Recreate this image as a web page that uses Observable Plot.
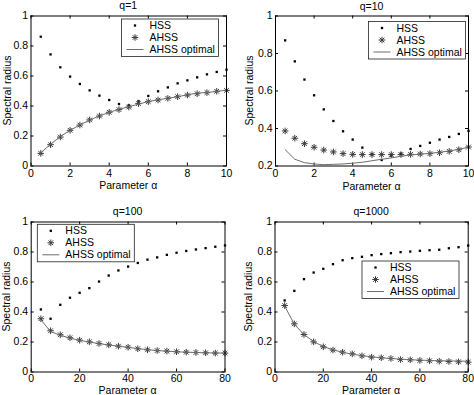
<!DOCTYPE html>
<html><head><meta charset="utf-8">
<script src="https://cdn.jsdelivr.net/npm/d3@7"></script>
<script src="https://cdn.jsdelivr.net/npm/@observablehq/plot@0.6"></script>
<style>
html,body{margin:0;padding:0;background:#fff;}
#fig{position:relative;width:474px;height:395px;overflow:hidden;background:#fff;}
</style></head><body><div id="fig"></div>
<script>
// ---- data ----
const alphaSmall = [0.5,1,1.5,2,2.5,3,3.5,4,4.5,5,5.5,6,6.5,7,7.5,8,8.5,9,9.5,10];
const alphaLarge = [4,8,12,16,20,24,28,32,36,40,44,48,52,56,60,64,68,72,76,80];

const hss_q1  = [0.862,0.744,0.658,0.596,0.547,0.504,0.469,0.440,0.413,0.405,0.433,0.467,0.498,0.524,0.551,0.571,0.591,0.611,0.627,0.642];
const ahss_q1 = [0.084,0.142,0.193,0.238,0.273,0.307,0.333,0.358,0.376,0.393,0.416,0.429,0.440,0.451,0.462,0.473,0.482,0.489,0.498,0.504];
const opt_q1  = [0.088,0.145,0.197,0.237,0.275,0.305,0.335,0.357,0.378,0.395,0.412,0.430,0.441,0.452,0.462,0.475,0.486,0.490,0.497,0.506];

const hss_q10  = [0.870,0.758,0.661,0.577,0.502,0.440,0.385,0.341,0.298,0.262,0.232,0.255,0.266,0.291,0.307,0.324,0.341,0.355,0.371,0.387];
const ahss_q10 = [0.387,0.348,0.319,0.300,0.285,0.275,0.266,0.262,0.261,0.261,0.261,0.261,0.261,0.262,0.264,0.266,0.271,0.278,0.287,0.301];
const opt_q10  = [0.287,0.236,0.218,0.211,0.207,0.209,0.211,0.215,0.220,0.228,0.236,0.243,0.252,0.259,0.263,0.268,0.273,0.280,0.289,0.300];

const hss_q100  = [0.417,0.355,0.448,0.495,0.528,0.559,0.603,0.643,0.677,0.703,0.727,0.749,0.764,0.781,0.795,0.807,0.817,0.826,0.835,0.844];
const ahss_q100 = [0.355,0.275,0.248,0.228,0.212,0.201,0.190,0.181,0.172,0.165,0.155,0.148,0.143,0.139,0.135,0.132,0.130,0.128,0.126,0.126];
const opt_q100  = [0.348,0.270,0.245,0.226,0.211,0.200,0.189,0.180,0.172,0.164,0.156,0.149,0.143,0.139,0.135,0.132,0.130,0.128,0.127,0.126];

const hss_q1000  = [0.477,0.541,0.619,0.663,0.688,0.719,0.745,0.759,0.768,0.779,0.786,0.792,0.799,0.803,0.808,0.812,0.815,0.825,0.832,0.843];
const ahss_q1000 = [0.443,0.321,0.250,0.201,0.168,0.146,0.132,0.121,0.108,0.099,0.095,0.090,0.083,0.081,0.077,0.075,0.072,0.070,0.068,0.066];
const opt_q1000  = [0.440,0.318,0.250,0.202,0.170,0.148,0.131,0.119,0.109,0.101,0.095,0.090,0.086,0.082,0.079,0.077,0.075,0.074,0.073,0.072];

const xTicksSmall = [0,2,4,6,8,10];
const xTicksLarge = [0,20,40,60,80];
const yTicksFull = [0,0.2,0.4,0.6,0.8,1];
const yTicksQ10 = [0.2,0.4,0.6,0.8,1];
const titles = ["q=1","q=10","q=100","q=1000"];
const seriesNames = ["HSS","AHSS","AHSS optimal"];
const xLabel = "Parameter α";
const yLabel = "Spectral radius";

// ---- rendering ----
const FONT = '"Liberation Sans", Arial, Helvetica, sans-serif';
const FS = 10.5;
const asterisk = {draw(ctx, size){
  const r = Math.sqrt(size/Math.PI), d = r*Math.SQRT1_2;
  ctx.moveTo(-r,0); ctx.lineTo(r,0); ctx.moveTo(0,-r); ctx.lineTo(0,r);
  ctx.moveTo(-d,-d); ctx.lineTo(d,d); ctx.moveTo(-d,d); ctx.lineTo(d,-d);
}};
const AST_R = 3.3, AST_COLOR = "#3a3a3a", LINE_COLOR = "#6e6e6e";

const panels = [
  {title:titles[0], xs:alphaSmall, hss:hss_q1, ahss:ahss_q1, opt:opt_q1, left:0, top:0, w:237, h:197,
   m:{l:30.5,r:11,t:15.5,b:31.5}, xDomain:[0,10], yDomain:[0,1], xTicks:xTicksSmall, yTicks:yTicksFull,
   legend:[121.5,19], titleY:5.5, xlabY:185, ylabX:7.5, xPad:4},
  {title:titles[1], xs:alphaSmall, hss:hss_q10, ahss:ahss_q10, opt:opt_q10, left:237, top:0, w:237, h:197,
   m:{l:38,r:6,t:15.5,b:31.5}, xDomain:[0,10], yDomain:[0.2,1], xTicks:xTicksSmall, yTicks:yTicksQ10,
   legend:[131.5,21.5], titleY:6, xlabY:186, ylabX:12, xPad:4},
  {title:titles[2], xs:alphaLarge, hss:hss_q100, ahss:ahss_q100, opt:opt_q100, left:0, top:197, w:237, h:198,
   m:{l:30.7,r:12.5,t:24.5,b:23.5}, xDomain:[0,80], yDomain:[0,1], xTicks:xTicksLarge, yTicks:yTicksFull,
   legend:[37.3,27.3], titleY:14, xlabY:193, ylabX:6.5, xPad:2.5},
  {title:titles[3], xs:alphaLarge, hss:hss_q1000, ahss:ahss_q1000, opt:opt_q1000, left:237, top:197, w:237, h:198,
   m:{l:37.5,r:6.3,t:24.5,b:23.5}, xDomain:[0,80], yDomain:[0,1], xTicks:xTicksLarge, yTicks:yTicksFull,
   legend:[125,64], titleY:14, xlabY:193, ylabX:11, xPad:2.5}
];

const fig = document.getElementById("fig");
for (const p of panels) {
  const fw = p.w - p.m.l - p.m.r, fh = p.h - p.m.t - p.m.b;
  const rows = ys => p.xs.map((x,i) => ({x, y: ys[i]}));
  const svg = Plot.plot({
    width: p.w, height: p.h,
    marginLeft: p.m.l, marginRight: p.m.r, marginTop: p.m.t, marginBottom: p.m.b,
    style: {fontFamily: FONT, fontSize: FS + "px", color: "#000", background: "transparent", overflow: "visible"},
    x: {domain: p.xDomain, ticks: p.xTicks, tickSize: 0, tickPadding: p.xPad, tickFormat: d => String(d), label: null},
    y: {domain: p.yDomain, ticks: p.yTicks, tickSize: 0, tickPadding: 3, tickFormat: d => String(d), label: null},
    marks: [
      Plot.ruleX(p.xTicks, {x: d => d, insetTop: fh - 3, stroke: "#000"}),
      Plot.ruleX(p.xTicks, {x: d => d, insetBottom: fh - 3, stroke: "#000"}),
      Plot.ruleY(p.yTicks, {y: d => d, insetRight: fw - 3, stroke: "#000"}),
      Plot.ruleY(p.yTicks, {y: d => d, insetLeft: fw - 3, stroke: "#000"}),
      Plot.dot(rows(p.hss), {x: "x", y: "y", symbol: "square", r: 1.3, fill: "#000", stroke: "none"}),
      Plot.dot(rows(p.ahss), {x: "x", y: "y", symbol: asterisk, r: AST_R, stroke: AST_COLOR, fill: "none", strokeWidth: 1}),
      Plot.line(rows(p.opt), {x: "x", y: "y", stroke: LINE_COLOR, strokeWidth: 1}),
      Plot.frame({stroke: "#000", strokeWidth: 1})
    ]
  });
  svg.style.position = "absolute";
  svg.style.left = p.left + "px";
  svg.style.top = p.top + "px";
  svg.style.maxWidth = "none";
  const s = d3.select(svg);
  const cx = p.m.l + fw/2, cy = p.m.t + fh/2;
  const txt = (x, y, str, anchor = "middle") => s.append("text").attr("x", x).attr("y", y).attr("dy", "0.35em")
     .attr("text-anchor", anchor).attr("font-family", FONT).attr("font-size", FS).attr("fill", "#000").text(str);
  txt(cx, p.titleY, p.title);
  txt(cx, p.xlabY, xLabel);
  txt(0, 0, yLabel).attr("transform", `translate(${p.ylabX},${cy}) rotate(-90)`);
  // legend
  const g = s.append("g").attr("transform", `translate(${p.legend[0]},${p.legend[1]})`);
  g.append("rect").attr("width", 97).attr("height", 37.5).attr("fill", "#fff").attr("stroke", "#222").attr("stroke-width", 0.8);
  const ry = [6.5, 18.5, 30.5];
  g.append("rect").attr("x", 13.5 - 1.15).attr("y", ry[0] - 1.15).attr("width", 2.3).attr("height", 2.3).attr("fill", "#000");
  const path = d3.path(); asterisk.draw(path, AST_R*AST_R*Math.PI);
  g.append("path").attr("d", path.toString()).attr("transform", `translate(13.5,${ry[1]})`).attr("stroke", AST_COLOR).attr("fill", "none");
  g.append("line").attr("x1", 5).attr("x2", 22).attr("y1", ry[2]).attr("y2", ry[2]).attr("stroke", LINE_COLOR);
  seriesNames.forEach((n, i) => g.append("text").attr("x", 28).attr("y", ry[i]).attr("dy", "0.35em")
     .attr("text-anchor", "start").attr("font-family", FONT).attr("font-size", FS).attr("fill", "#000").text(n));
  fig.appendChild(svg);
}
</script></body></html>
